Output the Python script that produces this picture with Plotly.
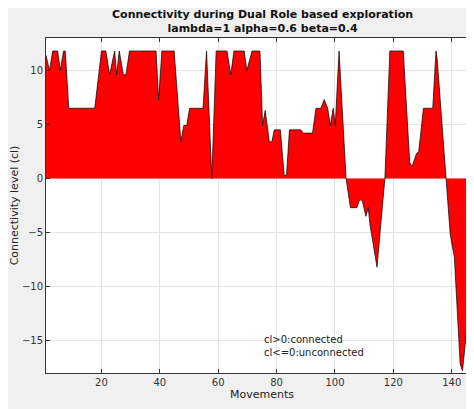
import plotly.graph_objects as go

movements = [1, 2.2, 3.3, 5, 5.9, 7, 7.6, 8.8, 17.7, 20, 21.5, 22.8, 24.5, 25.2, 26.1, 27.5, 28.4, 29.6,
             38.7, 39.6, 40.7, 44.9, 47.2, 48.2, 49.2, 50.2, 54.8, 56, 57.8, 59.3, 63, 64.3, 65.4, 68.9,
             69.8, 71.6, 74.3, 75.2, 76.1, 77.5, 78.4, 79.2, 81.3, 82.6, 83.4, 84.4, 88.3, 89.1, 92.3,
             93.5, 95.2, 96.3, 97.5, 98.4, 99.4, 100.1, 101.4, 103.8, 105.3, 107.5, 108.4, 109.3, 110.6,
             111.4, 112, 114.4, 117.1, 118.8, 123.4, 125.6, 126.4, 127.9, 128.7, 130.3, 133.5, 134.6,
             135, 138.1, 139.5, 140.9, 142.9, 143.7, 146, 147.7, 148.6]
conn = [11.4, 10, 11.8, 11.8, 10, 11.8, 11.8, 6.5, 6.5, 11.8, 11.8, 9.6, 11.8, 9.6, 11.8, 9.6, 9.6, 11.8,
        11.8, 7.3, 11.8, 11.8, 3.4, 4.9, 4.9, 6.5, 6.5, 11.8, 0, 11.8, 11.8, 9.6, 11.8, 11.8,
        10, 11.8, 11.8, 4.9, 6.3, 3.4, 3.4, 4.5, 4.5, 0.3, 0.3, 4.5, 4.5, 4.2, 4.2,
        6.5, 6.5, 7.3, 6.5, 4.9, 6.5, 4.9, 11.8, 0, -2.7, -2.7, -2.0, -2.0, -3.5,
        -2.7, -4.3, -8.2, 0, 11.8, 11.8, 1.5, 1.1, 2.3, 2.5, 6.5, 6.5, 11.8,
        11.1, 0, -5.2, -7.3, -17.2, -17.8, -11.6, -11.5, -11.2]

fig = go.Figure(go.Scatter(x=movements, y=conn, mode="lines", fill="tozeroy",
                           fillcolor="#ff0000", line=dict(color="black", width=0.7)))
fig.add_annotation(x=75, y=-15.5, text="cl>0:connected<br>cl<=0:unconnected", showarrow=False,
                   xanchor="left", align="left", font=dict(size=10, color="#222"))
fig.add_annotation(x=0.5, y=1.0, xref="paper", yref="paper", yanchor="bottom", yshift=1,
                   text="<b>Connectivity during Dual Role based exploration<br>lambda=1 alpha=0.6 beta=0.4</b>",
                   showarrow=False, font=dict(size=11, color="#111"))
ax = dict(showgrid=True, gridcolor="#e3e3e3", zeroline=False, showline=True, linecolor="#333",
          mirror="ticks", ticks="inside", ticklen=4, tickcolor="#333", tickfont=dict(size=10, color="#333"),
          automargin=False)
fig.update_layout(
    width=474, height=409, margin=dict(l=38, r=4, t=30, b=44, autoexpand=False),
    paper_bgcolor="#f0f0f0", plot_bgcolor="white", showlegend=False,
    font=dict(family="DejaVu Sans", color="#222"),
    xaxis=dict(ax, range=[1, 149], tickvals=[20, 40, 60, 80, 100, 120, 140],
               title=dict(text="Movements", font=dict(size=11), standoff=2)),
    yaxis=dict(ax, range=[-18, 13], tickvals=[-15, -10, -5, 0, 5, 10],
               title=dict(text="Connectivity level (cl)", font=dict(size=11), standoff=2)),
)
fig.write_html("out.html")
